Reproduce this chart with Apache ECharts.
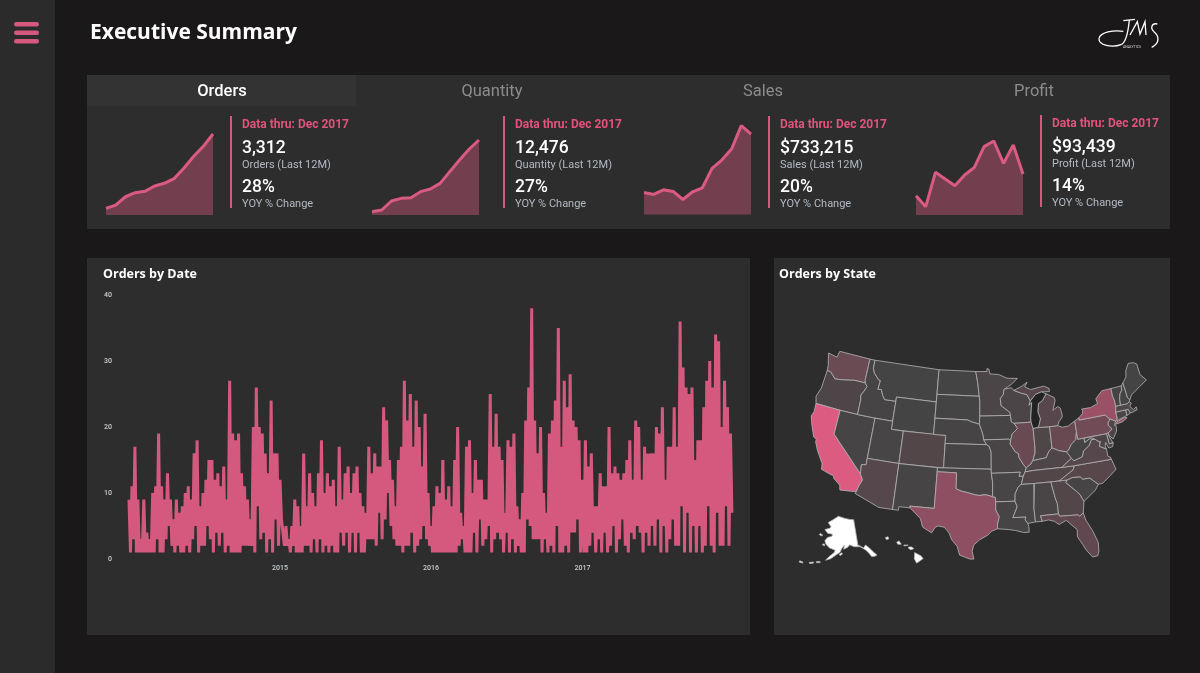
<!DOCTYPE html>
<html>
<head>
<meta charset="utf-8">
<style>html,body{margin:0;padding:0;background:#1a1819}#c{width:1200px;height:673px}</style>
<script src="https://cdn.jsdelivr.net/npm/echarts@6/dist/echarts.min.js"></script>
</head>
<body>
<div id="c"></div>
<script>
const tabNames = ['Orders','Quantity','Sales','Profit'];
const kpiValues = ['3,312','12,476','$733,215','$93,439'];
const kpiChanges = ['28%','27%','20%','14%'];
const dataThru = 'Data thru: Dec 2017';
const monthLabels = ['Jan','Feb','Mar','Apr','May','Jun','Jul','Aug','Sep','Oct','Nov','Dec'];
const ordersTrend = [2586,2619,2700,2740,2753,2805,2831,2877,2978,3093,3191,3312];
const quantityTrend = [9825,9887,10220,10318,10343,10565,10663,10873,11305,11736,12143,12476];
const salesTrend = [611065,606877,616649,613159,596407,612461,620837,661321,678771,701805,750665,733215];
const profitTrend = [81999,76191,94319,90799,87279,92911,96959,107871,110863,99071,108751,93439];

const orders2014 = [9,1,11,3,17,1,9,1,3,1,9,1,4,1,3,1,10,1,11,3,19,1,11,1,9,3,13,5,9,2,6,1,9,2,7,1,8,1,10,2,11,1,9,3,16,5,18,1,8,2,10,2,12,5,15,3,15,1,12,4,13,2,11,4,14,1,9,2,27,1,19,1,18,1,19,1,13,2,11,2,9,2,6,2,20,1,26,8,20,3,19,4,16,1,13,3,24,1,16,6,16,2];
const orders2015 = [12,6,6,2,5,2,3,1,5,2,9,1,8,1,5,1,16,2,8,2,13,1,10,3,8,1,13,3,18,1,10,2,13,1,11,2,12,1,8,1,17,4,9,2,13,4,14,1,10,4,13,1,14,4,10,1,8,1,7,3,17,3,13,3,16,2,14,7,14,3,23,6,21,10,15,5,12,3,8,2,15,2,17,1,27,2,21,2,25,4,17,1,24,2,20,3,14,5,22,3,10,2];
const orders2016 = [5,1,8,1,11,1,10,1,15,1,9,1,11,1,8,1,15,1,20,2,7,3,5,1,17,1,18,1,10,4,15,1,12,6,12,2,9,3,9,5,25,1,17,3,22,4,17,3,15,1,7,4,18,1,17,3,19,1,8,2,6,1,10,1,21,6,26,5,38,3,21,3,16,3,20,1,10,3,7,1,19,2,21,1,24,5,35,1,17,1,27,2,23,1,28,4,21,4,20,6,18,1];
const orders2017 = [12,1,18,1,14,2,16,4,8,1,8,3,13,1,11,4,11,1,20,2,13,5,14,1,13,3,12,6,13,2,15,1,18,4,12,3,21,5,20,4,12,1,17,4,16,2,16,5,16,2,20,6,19,1,23,5,12,1,17,3,17,6,23,2,17,2,36,8,29,1,26,7,25,1,26,5,15,1,18,5,18,1,23,2,27,8,30,2,26,1,34,7,33,2,20,2,27,8,23,2,19,7];
const orderYears = [[2014,orders2014],[2015,orders2015],[2016,orders2016],[2017,orders2017]];
const yTicks = [0,10,20,30,40];

const stateNames = ['CA','NY','TX','PA','WA','IL','OH','FL','MI','NC','AZ','VA','GA','TN','CO','IN','KY','MA','OR','NJ','WI','MD','DE','MN','CT','OK','MO','AL','AR','RI','UT','MS','LA','SC','NV','NE','NM','IA','NH','KS','ID','MT','SD','VT','DC','ME','ND','WV','WY'];
const stateOrders = [2001,1128,985,587,506,492,469,383,255,249,224,224,184,183,182,149,139,135,124,130,110,105,96,89,82,66,66,61,60,56,53,53,42,42,39,38,37,30,27,24,21,15,12,11,10,8,7,4,1];

const stateShapes = {
WA:[[[-124.7,48.4],[-123,48.2],[-122.8,49],[-117.03,49],[-117.03,46.4],[-116.92,45.99],[-118.98,46],[-119.3,45.93],[-121.2,45.65],[-122.3,45.55],[-122.8,45.9],[-123.4,46.25],[-124,46.27],[-124.1,46.9]]],
OR:[[[-124,46.27],[-123.4,46.25],[-122.8,45.9],[-122.3,45.55],[-121.2,45.65],[-119.3,45.93],[-118.98,46],[-116.92,45.99],[-116.46,45.6],[-116.85,44.9],[-117.2,44.4],[-117.03,43.8],[-117.03,42],[-120,42],[-124.2,42],[-124.55,42.85],[-124.1,44]]],
CA:[[[-124.2,42],[-120,42],[-120,39],[-114.63,35],[-114.13,34.3],[-114.5,33.5],[-114.72,32.72],[-117.12,32.53],[-117.3,33.1],[-118.4,33.75],[-118.5,34.03],[-119.2,34.15],[-120.5,34.45],[-120.65,35.15],[-121.9,36.6],[-122.5,37.5],[-122.5,37.8],[-123,38],[-123.8,39.3],[-124.35,40.4],[-124.1,41]]],
NV:[[[-120,42],[-117.03,42],[-114.04,42],[-114.04,36.2],[-114.74,36.1],[-114.63,35],[-120,39]]],
ID:[[[-117.03,49],[-116.05,49],[-116.05,48],[-115.7,47.45],[-114.7,46.7],[-114.35,46.65],[-114.5,45.55],[-113.9,45.6],[-113.45,44.9],[-113,44.45],[-111.05,44.48],[-111.05,42],[-114.04,42],[-117.03,42],[-117.03,43.8],[-117.2,44.4],[-116.85,44.9],[-116.46,45.6],[-116.92,45.99],[-117.03,46.4]]],
MT:[[[-116.05,49],[-104.05,49],[-104.05,45],[-111.05,45],[-111.05,44.48],[-113,44.45],[-113.45,44.9],[-113.9,45.6],[-114.5,45.55],[-114.35,46.65],[-114.7,46.7],[-115.7,47.45],[-116.05,48]]],
WY:[[[-111.05,45],[-104.05,45],[-104.05,41],[-111.05,41]]],
UT:[[[-114.04,42],[-111.05,42],[-111.05,41],[-109.05,41],[-109.05,37],[-114.04,37]]],
CO:[[[-109.05,41],[-102.05,41],[-102.05,37],[-109.05,37]]],
AZ:[[[-114.04,37],[-109.05,37],[-109.05,31.33],[-111.07,31.33],[-114.81,32.5],[-114.72,32.72],[-114.5,33.5],[-114.13,34.3],[-114.63,35],[-114.74,36.1],[-114.04,36.2]]],
NM:[[[-109.05,37],[-103,37],[-103.04,32],[-106.62,32],[-106.53,31.78],[-108.2,31.78],[-108.2,31.33],[-109.05,31.33]]],
ND:[[[-104.05,49],[-97.23,49],[-96.85,47.6],[-96.56,45.94],[-104.05,45.94]]],
SD:[[[-104.05,45.94],[-96.56,45.94],[-96.45,45.3],[-96.45,43.5],[-96.5,42.5],[-97.9,42.8],[-98.5,43],[-104.05,43]]],
NE:[[[-104.05,43],[-98.5,43],[-97.9,42.8],[-96.5,42.5],[-96.1,41.7],[-95.9,41.2],[-95.77,40.6],[-95.31,40],[-102.05,40],[-102.05,41],[-104.05,41]]],
KS:[[[-102.05,40],[-95.31,40],[-94.9,39.8],[-94.6,39.1],[-94.62,37],[-102.05,37]]],
OK:[[[-103,37],[-94.62,37],[-94.62,36.5],[-94.43,35.4],[-94.48,33.64],[-95.5,33.9],[-96.5,33.8],[-97.2,33.9],[-98.1,34.1],[-99.2,34.3],[-100,34.56],[-100,36.5],[-103,36.5]]],
TX:[[[-106.62,32],[-103.04,32],[-103,36.5],[-100,36.5],[-100,34.56],[-99.2,34.3],[-98.1,34.1],[-97.2,33.9],[-96.5,33.8],[-95.5,33.9],[-94.48,33.64],[-94.04,33.55],[-94.04,33],[-94.04,32],[-93.55,31.2],[-93.85,30.2],[-93.85,29.7],[-94.7,29.4],[-95.3,28.9],[-96.4,28.35],[-97.2,27.7],[-97.4,26.9],[-97.15,25.96],[-97.7,25.95],[-99.1,26.4],[-99.5,27.5],[-100.3,28.3],[-100.7,29.1],[-101.4,29.77],[-102.3,29.88],[-102.7,29.7],[-103.15,28.98],[-104.5,29.6],[-104.9,30.6],[-106.53,31.78]]],
MN:[[[-97.23,49],[-95.15,49],[-95.15,49.38],[-94.8,49.3],[-94.6,48.7],[-93,48.6],[-91.5,48.1],[-89.6,48],[-90.8,47.3],[-92.1,46.75],[-92.3,46.1],[-92.85,45.6],[-92.75,44.75],[-91.25,43.85],[-91.22,43.5],[-96.45,43.5],[-96.45,45.3],[-96.56,45.94],[-96.85,47.6]]],
IA:[[[-96.45,43.5],[-91.22,43.5],[-91.1,42.7],[-90.64,42.5],[-90.15,41.85],[-91.1,41.2],[-91.4,40.4],[-91.7,40.6],[-95.77,40.6],[-95.9,41.2],[-96.1,41.7],[-96.5,42.5]]],
MO:[[[-95.77,40.6],[-91.7,40.6],[-91.4,40.4],[-91.5,40],[-90.7,39],[-90.2,38.75],[-90.2,38.3],[-89.5,37.3],[-89.15,37],[-89.4,36.5],[-89.7,36],[-90.37,36],[-90.15,36.5],[-94.62,36.5],[-94.62,37],[-94.6,39.1],[-94.9,39.8],[-95.31,40]]],
AR:[[[-94.62,36.5],[-90.15,36.5],[-90.37,36],[-89.7,36],[-90.1,35],[-90.6,34.7],[-91.1,33.9],[-91.17,33],[-94.04,33],[-94.04,33.55],[-94.48,33.64],[-94.43,35.4]]],
LA:[[[-94.04,33],[-91.17,33],[-90.9,32.3],[-91.6,31],[-89.73,31],[-89.85,30.65],[-89.5,30.18],[-89.4,29.8],[-89.4,29.1],[-90.2,29.1],[-91.3,29.4],[-92.2,29.55],[-93.85,29.7],[-93.85,30.2],[-93.55,31.2],[-94.04,32]]],
WI:[[[-92.1,46.75],[-90.8,46.9],[-90.4,46.55],[-89.1,46.15],[-88.1,45.9],[-87.6,45.1],[-87.9,44.6],[-87.4,44.9],[-87.55,44.2],[-87.8,43],[-87.8,42.5],[-90.64,42.5],[-91.1,42.7],[-91.22,43.5],[-91.25,43.85],[-92.75,44.75],[-92.85,45.6],[-92.3,46.1]]],
IL:[[[-90.64,42.5],[-87.8,42.5],[-87.55,41.7],[-87.53,39.3],[-87.6,38.7],[-88.05,37.8],[-88.4,37.4],[-89.15,37],[-89.5,37.3],[-90.2,38.3],[-90.2,38.75],[-90.7,39],[-91.5,40],[-91.4,40.4],[-91.1,41.2],[-90.15,41.85]]],
IN:[[[-87.55,41.7],[-87.2,41.76],[-84.8,41.72],[-84.82,39.1],[-85.4,38.7],[-85.9,38],[-87,37.9],[-88.05,37.8],[-87.6,38.7],[-87.53,39.3]]],
OH:[[[-84.8,41.72],[-83.45,41.73],[-82.7,41.45],[-81.7,41.5],[-80.52,41.98],[-80.52,40.64],[-80.85,39.7],[-81.7,39.2],[-82.2,38.6],[-82.6,38.4],[-83.7,38.65],[-84.82,39.1]]],
KY:[[[-89.15,37],[-88.4,37.4],[-88.05,37.8],[-87,37.9],[-85.9,38],[-85.4,38.7],[-84.82,39.1],[-83.7,38.65],[-82.6,38.4],[-81.97,37.54],[-83.68,36.6],[-88.07,36.6],[-89.4,36.5]]],
TN:[[[-90.1,35],[-89.7,36],[-89.4,36.5],[-88.07,36.6],[-83.68,36.6],[-81.68,36.59],[-82,36.1],[-84.32,35],[-85.6,35],[-88.2,35]]],
MS:[[[-90.1,35],[-88.2,35],[-88.1,34.9],[-88.47,31.9],[-88.4,30.3],[-89.5,30.18],[-89.85,30.65],[-89.73,31],[-91.6,31],[-90.9,32.3],[-91.17,33],[-91.1,33.9],[-90.6,34.7]]],
AL:[[[-88.2,35],[-85.6,35],[-85.18,32.87],[-85,32.3],[-85,31],[-87.6,31],[-87.45,30.3],[-88.4,30.3],[-88.47,31.9],[-88.1,34.9]]],
GA:[[[-85.6,35],[-84.32,35],[-83.1,35],[-83.35,34.7],[-82,33.5],[-81.5,33],[-81.1,32.1],[-81.45,30.72],[-82.05,30.36],[-82.2,30.57],[-84.86,30.7],[-85,31],[-85,32.3],[-85.18,32.87]]],
FL:[[[-87.6,31],[-85,31],[-84.86,30.7],[-82.2,30.57],[-82.05,30.36],[-81.45,30.72],[-81.25,29.8],[-80.55,28.4],[-80.03,26.8],[-80.15,25.75],[-80.4,25.2],[-81.1,25.15],[-81.8,26.1],[-82.2,26.9],[-82.75,27.9],[-82.65,28.8],[-83.4,29.5],[-84,30.1],[-85.1,29.7],[-85.7,30.15],[-86.5,30.4],[-87.45,30.3]]],
SC:[[[-83.35,34.7],[-83.1,35],[-82.3,35.2],[-81.05,35.15],[-80.8,34.82],[-79.67,34.8],[-78.55,33.86],[-79.2,33.2],[-80.4,32.5],[-81.1,32.1],[-81.5,33],[-82,33.5]]],
NC:[[[-84.32,35],[-82,36.1],[-81.68,36.59],[-75.87,36.55],[-75.5,35.25],[-76.5,34.65],[-77.9,33.9],[-78.55,33.86],[-79.67,34.8],[-80.8,34.82],[-81.05,35.15],[-82.3,35.2],[-83.1,35]]],
VA:[[[-83.68,36.6],[-81.97,37.54],[-81.68,37.2],[-80.3,37.5],[-79.9,38.2],[-78.87,38.76],[-78.35,39.4],[-77.72,39.32],[-77.05,38.85],[-77.3,38.4],[-76.3,37.9],[-76.3,37],[-75.97,36.85],[-75.87,36.55],[-81.68,36.59]]],
WV:[[[-82.6,38.4],[-82.2,38.6],[-81.7,39.2],[-80.85,39.7],[-80.52,40.64],[-80.52,39.72],[-79.48,39.72],[-79.48,39.2],[-78.35,39.63],[-77.72,39.32],[-78.35,39.4],[-78.87,38.76],[-79.9,38.2],[-80.3,37.5],[-81.68,37.2],[-81.97,37.54]]],
PA:[[[-80.52,41.98],[-79.76,42.27],[-79.76,42],[-75.35,42],[-74.7,41.36],[-75.13,40.98],[-75.2,40.68],[-74.72,40.15],[-75.42,39.8],[-75.79,39.72],[-80.52,39.72],[-80.52,40.64]]],
NY:[[[-79.76,42.27],[-79.05,42.7],[-78.9,43.05],[-79.05,43.27],[-77.5,43.25],[-76.2,43.55],[-76.3,44.2],[-75,44.98],[-73.35,45],[-73.4,44],[-73.25,43.55],[-73.27,42.75],[-73.5,42.05],[-73.5,41.3],[-73.65,41],[-73.9,41],[-74.7,41.36],[-75.35,42],[-79.76,42]],[[-74,40.6],[-73.75,40.85],[-72.3,41.15],[-71.9,41.05],[-72.8,40.7]]],
NJ:[[[-74.7,41.36],[-73.9,41],[-74.2,40.5],[-73.98,40.4],[-74.1,39.75],[-74.9,38.93],[-75.5,39.5],[-75.42,39.8],[-74.72,40.15],[-75.2,40.68],[-75.13,40.98]]],
DE:[[[-75.79,39.72],[-75.42,39.8],[-75.5,39.4],[-75.05,38.45],[-75.7,38.46]]],
MD:[[[-79.48,39.72],[-75.79,39.72],[-75.7,38.46],[-75.05,38.45],[-75.25,38.03],[-75.9,37.95],[-76.2,38.7],[-76.4,38.3],[-76.3,37.9],[-77.3,38.4],[-77.05,38.85],[-77.72,39.32],[-78.35,39.63],[-79.48,39.2]]],
CT:[[[-73.5,42.05],[-71.8,42.02],[-71.85,41.32],[-73.65,41],[-73.5,41.3]]],
RI:[[[-71.8,42.02],[-71.38,42.02],[-71.15,41.5],[-71.85,41.32]]],
MA:[[[-73.5,42.05],[-73.27,42.75],[-71.3,42.7],[-70.9,42.88],[-70.6,42.65],[-71,42.3],[-70.55,41.8],[-70,42.05],[-69.95,41.67],[-70.65,41.55],[-71.15,41.5],[-71.38,42.02],[-71.8,42.02]]],
VT:[[[-73.35,45],[-71.5,45],[-71.6,44.5],[-72.05,44.1],[-72.3,43.6],[-72.46,42.73],[-73.27,42.75],[-73.25,43.55],[-73.4,44]]],
NH:[[[-71.5,45],[-71.08,45.3],[-70.98,43.4],[-70.7,43.07],[-70.9,42.88],[-71.3,42.7],[-72.46,42.73],[-72.3,43.6],[-72.05,44.1],[-71.6,44.5]]],
ME:[[[-71.08,45.3],[-70.3,45.9],[-70,46.7],[-69.23,47.46],[-68.3,47.35],[-67.8,47.07],[-67.8,45.7],[-67,44.85],[-68.5,44.3],[-70.2,43.6],[-70.7,43.07],[-70.98,43.4]]],
MI:[[[-86.8,41.76],[-84.8,41.72],[-83.45,41.73],[-83.1,42.2],[-82.5,42.7],[-82.45,43],[-82.6,43.8],[-83,44.05],[-83.9,43.65],[-83.3,44.85],[-83.4,45.2],[-84.75,45.78],[-85.5,45],[-86.25,44.7],[-86.5,43.7],[-86.2,42.8],[-86.5,42.1]],[[-90.4,46.55],[-88.9,47],[-87.9,47.45],[-88.4,46.9],[-87.4,46.5],[-85,46.75],[-84.1,46.4],[-84.1,46],[-85.5,46.08],[-86.6,45.85],[-87.6,45.1],[-88.1,45.9],[-89.1,46.15]]],
DC:[[[-77.12,38.93],[-77.04,39],[-76.95,38.9],[-77.04,38.8]]],
LakeMichigan:[[[-87.8,42.5],[-87.55,41.7],[-87.2,41.76],[-86.8,41.76],[-86.5,42.1],[-86.2,42.8],[-86.5,43.7],[-86.25,44.7],[-85.5,45],[-84.75,45.78],[-85.5,46.08],[-86.6,45.85],[-87.6,45.1],[-87.9,44.6],[-87.4,44.9],[-87.55,44.2],[-87.8,43]]],
AK:[[[-141,69.65],[-141,60.3],[-139.5,59.9],[-137.5,58.9],[-135.5,59.8],[-133.5,58.4],[-131,56],[-130,55.2],[-131.5,55],[-133.5,55.2],[-135,57],[-136.5,58.2],[-139.5,59.6],[-144,60],[-147,60.8],[-148.5,60],[-151.5,59.3],[-151,60.8],[-153,59.5],[-154,58.2],[-157,57],[-160,55.6],[-163,54.8],[-161.5,56],[-158,58],[-157.5,58.8],[-162,59.5],[-164.8,60.6],[-166,61.7],[-164.5,63],[-161,63.7],[-161,64.5],[-165,64.5],[-168,65.6],[-164,66.5],[-163,67],[-166.5,68.4],[-163,69.5],[-157,71.2],[-150,70.5],[-145,70]],[[-154,57],[-152.3,57.6],[-153,58],[-154.5,57.5]],[[-168,53.3],[-166,53.6],[-166.3,54],[-168.5,53.6]],[[-172,52.3],[-170,52.8],[-170,53.2],[-172.5,52.6]],[[-178,51.5],[-176,51.6],[-176,52],[-178,52]],[[-171.5,63.3],[-169,63.1],[-169,63.6],[-171,63.8]],[[-167,60],[-165.5,59.9],[-165.5,60.4],[-167,60.4]]],
HI:[[[-155.9,20.25],[-155.1,19.85],[-154.8,19.5],[-155.65,18.95],[-155.95,19.5]],[[-156.7,20.95],[-156.3,20.95],[-156,20.75],[-156.4,20.6],[-156.7,20.8]],[[-157.3,21.2],[-156.75,21.18],[-156.75,21.08],[-157.3,21.08]],[[-158.25,21.55],[-157.95,21.7],[-157.65,21.3],[-158.1,21.3]],[[-159.75,22.1],[-159.4,22.22],[-159.3,21.95],[-159.6,21.88]]]
};

const PINK = '#d5597e', TEXT_PINK = '#e3537c', FONT = 'Roboto, "Noto Sans", sans-serif';
const PANEL = '#2d2d2d';

// Albers conic projection, with the usual insets for Alaska and Hawaii.
function albers(lon, lat, p1, p2, lat0, lon0) {
  const r = Math.PI / 180, n = (Math.sin(p1*r) + Math.sin(p2*r)) / 2;
  const C = Math.cos(p1*r) ** 2 + 2 * n * Math.sin(p1*r);
  const rho = Math.sqrt(C - 2*n*Math.sin(lat*r)) / n, rho0 = Math.sqrt(C - 2*n*Math.sin(lat0*r)) / n;
  const t = n * (lon - lon0) * r;
  return [rho * Math.sin(t), -(rho0 - rho * Math.cos(t))];
}
const usProjection = {
  project(c) {
    const lon = c[0], lat = c[1];
    if (lon < -129 && lat > 50) {
      const p = albers(lon, lat, 55, 65, 63, -152);
      return [p[0]*0.34 - 0.2998, p[1]*0.34 + 0.1587];
    }
    if (lon < -150 && lat < 25) {
      const p = albers(lon, lat, 8, 18, 20.6, -157.5);
      return [p[0] - 0.172, p[1] + 0.182];
    }
    return albers(lon, lat, 29.5, 45.5, 37.5, -96);
  },
  unproject(p) { return p; }
};
echarts.registerMap('USA', {type:'FeatureCollection', features:Object.keys(stateShapes).map(k => ({
  type:'Feature', properties:{name:k}, geometry:{type:'MultiPolygon', coordinates:stateShapes[k].map(r => [r.concat([r[0]])])}
}))});
// Uniform map scale: place the projected bounding box so that lon -96 / lat 37.5 lands at (982.4, 465.2).
const MAP_K = 465, MAP_CX = 982.4, MAP_CY = 465.2;
let bx0=1e9, bx1=-1e9, by0=1e9, by1=-1e9;
Object.values(stateShapes).forEach(poly => poly.forEach(ring => ring.forEach(pt => {
  const p = usProjection.project(pt);
  bx0=Math.min(bx0,p[0]); bx1=Math.max(bx1,p[0]); by0=Math.min(by0,p[1]); by1=Math.max(by1,p[1]);
})));

const orderSeriesData = [];
orderYears.forEach(([y, vals]) => vals.forEach((v, i) => {
  orderSeriesData.push([new Date(y, 0, 1).getTime() + i * (365 / vals.length) * 864e5, v]);
}));

const sparkBoxes = [
  {left:106, right:213, top:134, bottom:215, min:2522},
  {left:372, right:479, top:140, bottom:215, min:9702},
  {left:644, right:751, top:125.7, bottom:214.5, min:564997},
  {left:916, right:1023, top:141, bottom:215, min:71791}
];
const trends = [ordersTrend, quantityTrend, salesTrend, profitTrend];
const kpiColumns = [
  {tabX:222, barX:231, textX:242, dy:0},
  {tabX:492, barX:504, textX:515, dy:0},
  {tabX:763, barX:769, textX:780, dy:0},
  {tabX:1034, barX:1041, textX:1052, dy:-1}
];

const rect = (x,y,w,h,fill,extra) => Object.assign({type:'rect', silent:true, z:-10, shape:{x,y,width:w,height:h}, style:{fill}}, extra||{});
const txt = (x,y,text,size,fill,weight,align,font) => ({type:'text', silent:true, z:10, x, y, style:{text, fontSize:size, fill, fontWeight:weight||'normal', fontFamily:font||FONT, align:align||'left', verticalAlign:'middle'}});
const curve = (x1,y1,c1x,c1y,c2x,c2y,x2,y2) => ({type:'bezierCurve', silent:true, z:10, x:1080, y:10, scaleX:1/3, scaleY:1/3,
  shape:{x1,y1,cpx1:c1x,cpy1:c1y,cpx2:c2x,cpy2:c2y,x2,y2}, style:{fill:null, stroke:'#ffffff', lineWidth:4}});
const strokes = (pts) => ({type:'polyline', silent:true, z:10, x:1080, y:10, scaleX:1/3, scaleY:1/3,
  shape:{points:pts}, style:{fill:null, stroke:'#ffffff', lineWidth:4}});

const graphics = [
  rect(0,0,1200,673,'#1a1819'),
  rect(0,0,55,673,'#2b2b2b'),
  rect(87,75,1083,154,PANEL),
  rect(87,75,269,31,'#333333'),
  rect(87,258,663,377,PANEL),
  rect(774,258,396,377,PANEL),
  rect(14,22,25,4.5,PINK,{z:10,shape:{x:14,y:22,width:25,height:4.5,r:2.2}}),
  rect(14,30.5,25,4.5,PINK,{z:10,shape:{x:14,y:30.5,width:25,height:4.5,r:2.2}}),
  rect(14,39,25,4.5,PINK,{z:10,shape:{x:14,y:39,width:25,height:4.5,r:2.2}}),
  txt(90,33,'Executive Summary',21,'#ffffff','bold','left','"Open Sans", sans-serif'),
  txt(103,274.5,'Orders by Date',12.5,'#ffffff','bold','left','"Open Sans", sans-serif'),
  txt(779,274.5,'Orders by State',12.5,'#ffffff','bold','left','"Open Sans", sans-serif'),
  curve(130,64,100,60,62,66,57,85),
  curve(57,85,55,105,95,115,125,103),
  curve(125,103,140,95,145,60,148,30),
  strokes([[130,32],[165,28]]),
  strokes([[150,75],[172,35],[180,72],[195,35],[198,75]]),
  curve(232,42,215,38,210,55,222,65),
  curve(222,65,238,78,240,100,215,112),
  txt(1123,47.5,'ANALYTICS',3.5,'#dddddd','normal')
];
tabNames.forEach((name,i) => {
  const c = kpiColumns[i];
  graphics.push(txt(c.tabX,91.5,name,16.5,i===0?'#ffffff':'#8c8c8c',i===0?500:'normal','center'));
  graphics.push(rect(c.barX-1,116+c.dy,2,92,PINK,{z:10}));
  graphics.push(txt(c.textX,125+c.dy,dataThru,12,TEXT_PINK,'bold'));
  graphics.push(txt(c.textX,149+c.dy,kpiValues[i],17.5,'#ffffff',500));
  graphics.push(txt(c.textX,165+c.dy,name+' (Last 12M)',11,'#b3bac4'));
  graphics.push(txt(c.textX,188+c.dy,kpiChanges[i],17.5,'#ffffff',500));
  graphics.push(txt(c.textX,204+c.dy,'YOY % Change',11,'#b3bac4'));
});

const H = 673, W = 1200;
const grids = sparkBoxes.map(b => ({left:b.left, right:W-b.right, top:b.top, bottom:H-b.bottom}));
grids.push({left:129, right:W-733, top:295, bottom:H-559});
const xAxes = sparkBoxes.map((b,i) => ({type:'category', gridIndex:i, show:false, boundaryGap:false, data:monthLabels}));
xAxes.push({type:'time', gridIndex:4, min:new Date(2014,0,1).getTime(), max:new Date(2017,11,31).getTime(),
  axisLine:{show:false}, axisTick:{show:false}, splitLine:{show:false}, minorSplitLine:{show:false},
  axisLabel:{color:'#c9ced2', fontSize:7, fontWeight:500, fontFamily:FONT, margin:6, hideOverlap:false,
    formatter:(v) => { const d = new Date(v); return (d.getMonth()===0 && d.getDate()===1 && d.getFullYear()>orderYears[0][0]) ? String(d.getFullYear()) : ''; }}});
const yAxes = sparkBoxes.map((b,i) => ({type:'value', gridIndex:i, show:false, min:b.min, max:Math.max(...trends[i]), splitLine:{show:false}}));
yAxes.push({type:'value', gridIndex:4, min:yTicks[0], max:yTicks[yTicks.length-1], interval:10,
  axisLine:{show:false}, axisTick:{show:false}, splitLine:{show:false},
  axisLabel:{color:'#c9ced2', fontSize:7, fontWeight:500, fontFamily:FONT, margin:17}});

const series = trends.map((t,i) => ({type:'line', xAxisIndex:i, yAxisIndex:i, data:t, showSymbol:false, silent:true,
  lineStyle:{color:'#da5b81', width:3}, areaStyle:{color:PINK, opacity:0.42}}));
series.push({type:'line', xAxisIndex:4, yAxisIndex:4, data:orderSeriesData, showSymbol:false, silent:true,
  lineStyle:{color:PINK, width:3, join:'bevel'}});
series.push({type:'map', map:'USA', projection:usProjection,
  left:MAP_CX+bx0*MAP_K, top:MAP_CY+by0*MAP_K, width:(bx1-bx0)*MAP_K, height:(by1-by0)*MAP_K, silent:true,
  label:{show:false}, itemStyle:{areaColor:'#ffffff', borderColor:'#b4b4b4', borderWidth:0.8},
  data:stateNames.map((n,i) => ({name:n, value:stateOrders[i]})).concat([{name:'LakeMichigan', itemStyle:{areaColor:'#222222'}}])});

const chart = echarts.init(document.getElementById('c'), null, {renderer:'canvas', width:1200, height:673});
chart.setOption({
  animation:false, backgroundColor:'#1a1819', tooltip:{show:false},
  grid:grids, xAxis:xAxes, yAxis:yAxes, series,
  visualMap:{show:false, type:'continuous', seriesIndex:5, min:1, max:2001, inRange:{color:['#444444','#dc5b80']}},
  graphic:{elements:graphics}
});
</script>
</body>
</html>
